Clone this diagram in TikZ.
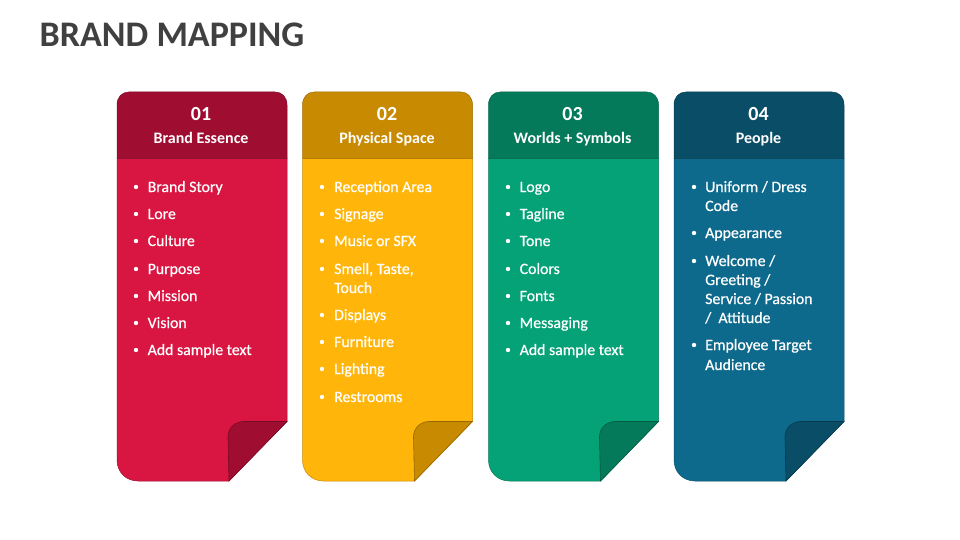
\documentclass[tikz,border=0pt]{standalone}
\usepackage{fontspec}
\setmainfont{Carlito}
\definecolor{bodyA}{HTML}{D91642}\definecolor{headA}{HTML}{9F0E31}
\definecolor{bodyB}{HTML}{FFB50A}\definecolor{headB}{HTML}{C78A00}
\definecolor{bodyC}{HTML}{05A177}\definecolor{headC}{HTML}{047A5B}
\definecolor{bodyD}{HTML}{0E6A8C}\definecolor{headD}{HTML}{0A4D66}
\definecolor{titlecol}{HTML}{404040}
\tikzset{
  itemtext/.style={anchor=base west,inner sep=0pt,text=white,font=\fontsize{15.8}{18}\selectfont\addfontfeature{FakeBold=0.6}},
  bulletdot/.style={circle,fill=white,inner sep=0pt,minimum size=4.4pt},
  numtext/.style={anchor=base,inner sep=0pt,text=white,font=\fontsize{20}{24}\selectfont\bfseries},
  headtext/.style={anchor=base,inner sep=0pt,text=white,font=\fontsize{16}{18}\selectfont\bfseries},
}
% #1 left x, #2 body colour, #3 head colour
\newcommand{\cardshape}[3]{%
  \begin{scope}[xshift=#1pt]
    \path[fill=#2,draw=#3,line width=.5pt]
      (0,66.5) -- (0,368) .. controls (0,380) and (9,389) .. (21,389) -- (112,389) -- (170,329.5) -- (170,66.5) -- cycle;
    \path[fill=#3,draw=#3!80!black,line width=.5pt]
      (0,66.5) -- (0,13) .. controls (0,5) and (5,0) .. (12,0) -- (158,0) .. controls (165,0) and (170,5) .. (170,13) -- (170,66.5) -- cycle;
    \path[fill=#3,draw=#3!75!black,line width=.6pt]
      (112,389) -- (111,345) .. controls (111,336) and (118,329.5) .. (127,329.5) -- (170,329.5) -- cycle;
  \end{scope}}
\begin{document}
\begin{tikzpicture}[x=1pt,y=-1pt]
\useasboundingbox (0,0) rectangle (960,540);
\fill[white] (0,0) rectangle (960,540);
\node[anchor=base west,inner sep=0pt,text=titlecol,font=\fontsize{36}{42}\selectfont\bfseries] (title) at (39.5,47) {BRAND MAPPING};
\begin{scope}[shift={(0,92)}]
\cardshape{117}{bodyA}{headA}
\cardshape{302.5}{bodyB}{headB}
\cardshape{488.5}{bodyC}{headC}
\cardshape{674}{bodyD}{headD}
\end{scope}
% headers
\node[numtext] (n1) at (201,120.7) {01};
\node[headtext] (h1) at (201,143.5) {Brand Essence};
\node[numtext] (n2) at (387,120.7) {02};
\node[headtext] (h2) at (387,143.5) {Physical Space};
\node[numtext] (n3) at (572.5,120.7) {03};
\node[headtext] (h3) at (572.5,143.5) {Worlds + Symbols};
\node[numtext] (n4) at (758.5,120.7) {04};
\node[headtext] (h4) at (758.5,143.5) {People};
% card 1
\foreach \y/\t in {187/Brand Story,214/Lore,241/Culture,269/Purpose,296/Mission,323/Vision,350/Add sample text}{
  \node[bulletdot] at (136,\y) {};
  \node[itemtext] at (147.5,\y+5) {\t};}
% card 2
\foreach \y/\t in {187/Reception Area,214/Signage,241/Music or SFX,269/{Smell, Taste,},315/Displays,342/Furniture,369/Lighting,397/Restrooms}{
  \node[bulletdot] at (322,\y) {};
  \node[itemtext] at (334,\y+5) {\t};}
\node[itemtext] at (334,293) {Touch};
% card 3
\foreach \y/\t in {187/Logo,214/Tagline,241/Tone,269/Colors,296/Fonts,323/Messaging,350/Add sample text}{
  \node[bulletdot] at (508,\y) {};
  \node[itemtext] at (519.5,\y+5) {\t};}
% card 4
\foreach \y in {187,233,261,345}{
  \node[bulletdot] at (694,\y) {};}
\node[itemtext] at (705,192) {Uniform / Dress};
\node[itemtext] at (705,211) {Code};
\node[itemtext] at (705,238) {Appearance};
\node[itemtext] at (705,266) {Welcome /};
\node[itemtext] at (705,285) {Greeting /};
\node[itemtext] at (705,304) {Service / Passion};
\node[itemtext] at (705,323) {/\ \ Attitude};
\node[itemtext] at (705,350) {Employee Target};
\node[itemtext] at (705,370) {Audience};
\end{tikzpicture}
\end{document}
